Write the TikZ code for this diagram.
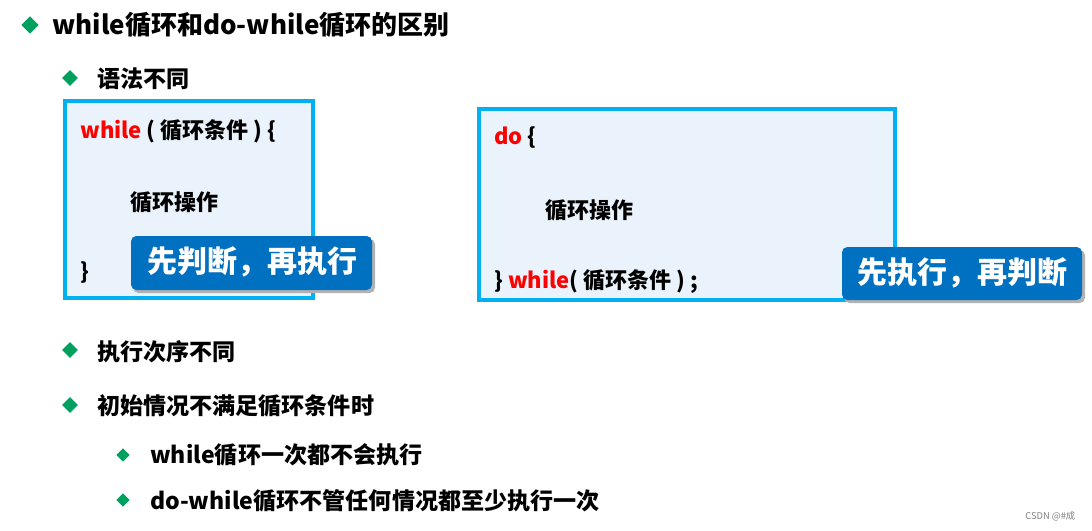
\documentclass[tikz,border=0pt]{standalone}
\usepackage{fontspec}
\setmainfont{Noto Sans CJK SC}
\usetikzlibrary{shapes.geometric}
\definecolor{bgreen}{HTML}{00A060}
\definecolor{boxfill}{HTML}{EAF3FB}
\definecolor{boxline}{HTML}{00B0F0}
\definecolor{callblue}{HTML}{0070C0}
\begin{document}
\begin{tikzpicture}[x=0.75pt,y=-0.75pt,
  dia/.style={diamond,fill=bgreen,inner sep=0pt,minimum size=#1},
  txt/.style={anchor=west,inner sep=0pt,font=\bfseries\fontsize{17.3}{19}\selectfont},
  code/.style={anchor=west,inner sep=0pt,font=\bfseries\fontsize{16.5}{18}\selectfont},
  cbox/.style={draw=boxline,line width=3pt,fill=boxfill},
  ctext/.style={text=white,font=\bfseries\fontsize{22.5}{24}\selectfont}]
\useasboundingbox (0,0) rectangle (1092,531);
\node[dia=13pt] (d1) at (30,25) {};
\node[txt,font=\bfseries\fontsize{19.5}{21}\selectfont] (t1) at (52,25) {while循环和do-while循环的区别};
\node[dia=12pt] (d2) at (70,78) {};
\node[txt] (t2) at (97,79) {语法不同};
\draw[cbox] (65,101) rectangle (313,298);
\node[code] (w1) at (80,131) {\textcolor{red}{while} ( 循环条件 ) \{};
\node[code] (w2) at (130,202) {循环操作};
\node[code] (w3) at (80,273) {\}};
\draw[cbox] (479,109) rectangle (895,300);
\node[code] (x1) at (494,138) {\textcolor{red}{do} \{};
\node[code] (x2) at (545,210) {循环操作};
\node[code] (x3) at (494,282) {\} \textcolor{red}{while}( 循环条件 ) ;};
\fill[black!30,rounded corners=4pt] (133,239) rectangle (375,293);
\fill[callblue,rounded corners=4pt] (131,236) rectangle (372,290);
\node[ctext] (c1) at (252,262) {先判断，再执行};
\fill[black!30,rounded corners=4pt] (844,250) rectangle (1085,303);
\fill[callblue,rounded corners=4pt] (842,247) rectangle (1082,300);
\node[ctext] (c2) at (962,273) {先执行，再判断};
\node[dia=12pt] (d3) at (70,350) {};
\node[txt] (t3) at (97,352) {执行次序不同};
\node[dia=12pt] (d4) at (70,405) {};
\node[txt] (t4) at (97,406) {初始情况不满足循环条件时};
\node[dia=10pt] (d5) at (123,455) {};
\node[txt] (t5) at (150,455) {while循环一次都不会执行};
\node[dia=10pt] (d6) at (123,500) {};
\node[txt] (t6) at (150,501) {do-while循环不管任何情况都至少执行一次};
\node[anchor=east,text=black!50,font=\fontsize{7}{8}\selectfont] (wm) at (1080,516) {CSDN @\#成};
\end{tikzpicture}
\end{document}
